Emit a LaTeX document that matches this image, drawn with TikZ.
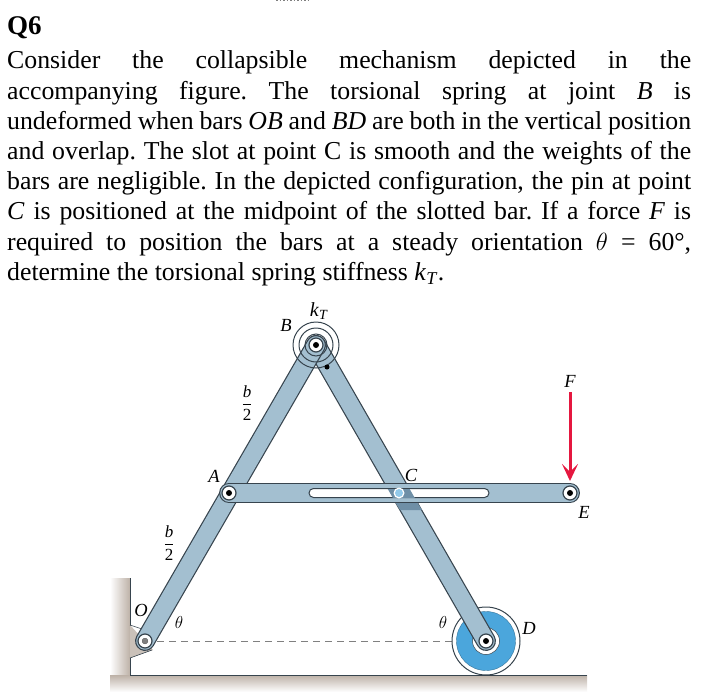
\documentclass[tikz,border=0pt]{standalone}
\usepackage{fontspec}
\setmainfont{Liberation Serif}
\usepackage{xcolor}
\usetikzlibrary{arrows.meta, calc, positioning}
\definecolor{barblue}{HTML}{A3BFD0}
\definecolor{barshade}{HTML}{6F8FA6}
\definecolor{baredge}{HTML}{37444E}
\definecolor{wheelblue}{HTML}{4BA6DC}
\definecolor{wallgray}{HTML}{BDB1A7}
\definecolor{forcered}{HTML}{E5173F}
\newcommand{\txtline}[1]{\makebox[684pt][s]{#1}}
\newcommand{\halfb}{$\displaystyle\frac{\mbox{\textit{b}}}{\mbox{\upshape 2}}$}
\frenchspacing
\tikzset{
  %bars and pins
  bar/.style={
    draw=baredge
    , double=barblue
    , double distance=17.5pt
    , line width=1.2pt
    , line cap=round
  },
  pin/.style={
    draw=baredge
    , fill=white
    , circle
    , line width=1.2pt
    , inner sep=0pt
    , minimum size=14pt
  },
  pindot/.style={
    fill=black
    , circle
    , inner sep=0pt
    , minimum size=6pt
  },
  txt/.style={
    anchor=west
    , inner sep=0pt
    , font=\fontsize{25.8}{30}\selectfont
  },
  lab/.style={
    inner sep=0pt
    , font=\fontsize{18.5}{20}\selectfont\itshape
  },
  springline/.style={
    draw=baredge
    , line width=1pt
  },
}
\begin{document}
\begin{tikzpicture}[x=1pt,y=-1pt]
  \useasboundingbox (0,0) rectangle (718,699);
  \coordinate (O) at (145,641);
  \coordinate (B) at (316,345);
  \coordinate (D) at (486,641);
  \coordinate (A) at (229,493);
  \coordinate (C) at (399,493);
  \coordinate (E) at (570,493);

  % text
  \draw[gray, dotted, line width=1.5pt] (276,0.5) -- (310,0.5);
  \node[txt] (q6) at (7,28) {\fontsize{27}{30}\selectfont\bfseries Q6};
  \node[txt] (l1) at (7,62) {\txtline{Consider the collapsible mechanism depicted in the}};
  \node[txt] (l2) at (7,93) {\txtline{accompanying figure. The torsional spring at joint \textit{B} is}};
  \node[txt] (l3) at (7,123) {\txtline{undeformed when bars \textit{OB} and \textit{BD} are both in the vertical position}};
  \node[txt] (l4) at (7,153) {\txtline{and overlap. The slot at point C is smooth and the weights of the}};
  \node[txt] (l5) at (7,183) {\txtline{bars are negligible. In the depicted configuration, the pin at point}};
  \node[txt] (l6) at (7,213) {\txtline{\textit{C} is positioned at the midpoint of the slotted bar. If a force \textit{F} is}};
  \node[txt] (l7) at (7,244) {\txtline{required to position the bars at a steady orientation $\theta$ = 60°,}};
  \node[txt] (l8) at (7,274) {determine the torsional spring stiffness \textit{k}\textsubscript{\textit{T}}.};

  % wall and floor
  \shade[left color=white, right color=wallgray] (110,578) rectangle (130,675);
  \shade[top color=wallgray, bottom color=white] (110,675) rectangle (587,692);
  \draw[baredge, line width=.8pt] (130,578) -- (130,675) -- (587,675);
  \fill[wallgray!80] (130,625) -- (153,650) -- (130,658) -- cycle;
  \draw[baredge, line width=.6pt] (130,625) -- (145,630) (130,658) -- (152,650);
  \draw[gray, dashed, line width=1pt, dash pattern=on 7pt off 5pt] (O) -- (D);

  % wheel
  \node[circle, draw=baredge, fill=white, line width=1pt, minimum size=68pt, inner sep=0pt] (wheelD) at (D) {};
  \node[circle, draw=wheelblue!70!black, fill=wheelblue, minimum size=59pt, inner sep=0pt] (wheelblue) at (D) {};
  \node[circle, fill=white, draw=baredge, line width=.5pt, minimum size=27pt, inner sep=0pt] (hubD) at (D) {};

  % bars
  \draw[bar] (B) -- (D);
  \draw[bar] (O) -- (B);
  \fill[barshade] (395,502) -- (417,502) -- (422,510) -- (400,510) -- cycle;
  \draw[bar] (A) -- (E);
  \draw[draw=baredge, fill=white, line width=1pt, rounded corners=4.5pt] (309,488.5) rectangle (489,497.5);
  \begin{scope}
    \clip (310,489) rectangle (488,497);
    \draw[barshade, line width=19pt] (B) -- (D);
  \end{scope}
  \node[circle, fill=white, minimum size=11pt, inner sep=0pt] (pinCw) at (C) {};
  \node[circle, fill=wheelblue!60, minimum size=8pt, inner sep=0pt] (pinC) at (C) {};

  % pins
  \foreach \p in {O,B,D,A,E}{
    \node[pin] (pin\p) at (\p) {};
    \node[pindot] (dot\p) at (\p) {};
  }
  \node[pindot, fill=gray] (dotOg) at (O) {};

  % spring
  \draw[springline] (B) circle[radius=11pt];
  \draw[springline] (B) circle[radius=17pt];
  \draw[springline] (B) circle[radius=23pt];
  \node[pindot, minimum size=5pt] (springdot) at (327,367) {};

  % force
  \coordinate (Ftop) at (570,392);
  \coordinate (Ftip) at (570,481);
  \draw[forcered, line width=3pt, -{Stealth[length=17pt, width=16pt, inset=8pt]}] (Ftop) -- (Ftip);

  % labels
  \node[lab] (labB) at (286,325) {B};
  \node[lab, font=\fontsize{20}{20}\selectfont] (labk) at (319,311) {\textit{k}\textsubscript{\textit{T}}};
  \node[lab] (labA) at (214,476) {A};
  \node[lab] (labC) at (411,475) {C};
  \node[lab] (labF) at (570,381) {F};
  \node[lab] (labE) at (584,512) {E};
  \node[lab] (labO) at (141,610) {O};
  \node[lab] (labD) at (529,628) {D};
  \node[lab] (labt1) at (179,622) {$\theta$};
  \node[lab] (labt2) at (443,622) {$\theta$};
  \node[lab, font=\fontsize{17}{18}\selectfont] (labb1) at (247,403) {\halfb};
  \node[lab, font=\fontsize{17}{18}\selectfont] (labb2) at (169,543) {\halfb};
\end{tikzpicture}
\end{document}
